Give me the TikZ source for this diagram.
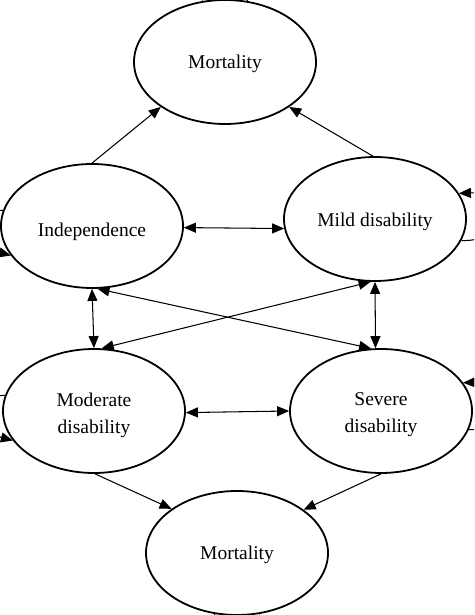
\documentclass[tikz,border=0pt]{standalone}
\usepackage{fontspec}
\setmainfont{Liberation Serif}
\usetikzlibrary{shapes.geometric,arrows.meta}
\newcommand\dropby[2]{\raisebox{-#1}[\height][\depth]{#2}}
\newcommand\twolines[2]{\begin{tabular}{@{}c@{}}#1\\#2\end{tabular}}
\begin{document}
\begin{tikzpicture}[x=1pt,y=1pt,
  state/.style={ellipse,draw,line width=1.8pt,minimum width=182pt,minimum height=124pt,inner sep=0pt,font=\fontsize{19.5}{27}\selectfont},
  tipa/.tip={Triangle[length=12pt,width=10pt]},
  arr/.style={line width=1.05pt,-tipa},
  darr/.style={line width=1.05pt,tipa-tipa}]
\useasboundingbox (0,0) rectangle (474,615);
\clip (0,0) rectangle (474,615);
\node[state] (mt) at (225,553) {\dropby{2pt}{Mortality}};
\node[state] (ind) at (92,389) {\dropby{6pt}{Independence}};
\node[state] (mild) at (375,396) {\dropby{3pt}{Mild disability}};
\node[state] (mod) at (94,204) {\dropby{4pt}{\twolines{Moderate}{disability}}};
\node[state] (sev) at (381,204) {\dropby{3pt}{\twolines{Severe}{disability}}};
\node[state] (mb) at (237,62) {\dropby{2pt}{Mortality}};
% transitions
\draw[arr] (ind.90) -- (mt.215);
\draw[arr] (mild.92) -- (mt.325);
\draw[darr] (ind.-1) -- (mild.186);
\draw[darr] (mod.-1) -- (sev.180);
\draw[darr] (ind.270) -- (mod.90);
\draw[darr] (mild.270) -- (sev.95);
\draw[darr] (ind.275) -- (sev.99);
\draw[darr] (mod.83) -- (mild.266);
\draw[arr] (mod.271) -- (mb.146);
\draw[arr] (sev.270) -- (mb.33);
% self loops (cut by the frame)
\draw[arr] (ind.170) .. controls +(180:30) and +(165:30) .. (ind.200);
\draw[arr] (mod.170) .. controls +(180:30) and +(165:30) .. (mod.200);
\draw[arr] (mild.-14) .. controls +(-2:50) and +(2:50) .. (mild.17);
\draw[arr] (sev.-12) .. controls +(-2:50) and +(2:50) .. (sev.19);
\draw[arr] (mt.70) .. controls +(80:30) and +(100:30) .. (mt.110);
\draw[arr] (mb.250) .. controls +(260:30) and +(280:30) .. (mb.290);
\end{tikzpicture}
\end{document}
